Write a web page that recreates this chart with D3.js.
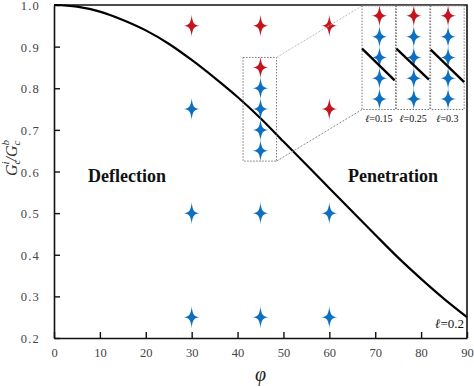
<!DOCTYPE html>
<html>
<head>
<meta charset="utf-8">
<script src="https://cdn.jsdelivr.net/npm/d3@7"></script>
<style>
  body { margin: 0; background: #fff; }
  svg { display: block; font-family: "Liberation Serif", "DejaVu Serif", serif; }
</style>
</head>
<body>
<svg width="474" height="387"></svg>
<script>
// courbe critique (l = 0.2)
var curvePhi = [0, 5, 10, 15, 20, 25, 30, 35, 40, 45, 50, 55, 60, 65, 70, 75, 80, 85, 90];
var curveG   = [1.0, 0.996, 0.984, 0.964, 0.939, 0.907, 0.868, 0.825, 0.779, 0.728, 0.672, 0.616, 0.56, 0.504, 0.448, 0.393, 0.342, 0.294, 0.25];

// simulations : phi, G, resultat (d = deflection, p = penetration)
var simPhi = [30, 30, 30, 30, 45, 45, 45, 45, 45, 45, 45, 45, 60, 60, 60, 60];
var simG   = [0.95, 0.75, 0.5, 0.25, 0.95, 0.85, 0.8, 0.75, 0.7, 0.65, 0.5, 0.25, 0.95, 0.75, 0.5, 0.25];
var simRes = ["p", "d", "d", "d", "p", "p", "d", "d", "d", "d", "d", "d", "p", "p", "d", "d"];

// zoom autour de phi = 45
var zoomPhi = [41.2, 48.5];
var zoomG = [0.625, 0.874];
var zoomStarG = [0.85, 0.8, 0.75, 0.7, 0.65];
var zoomStarRes = ["p", "d", "d", "d", "d"];

// encarts pour d'autres l
var insetLabels = ["0.15", "0.25", "0.3"];
var insetLinePhi = [[41.2, 48.3], [41.2, 48.3], [41.2, 48.5]];
var insetLineG = [[0.771, 0.695], [0.771, 0.697], [0.769, 0.691]];

var xTicks = [0, 10, 20, 30, 40, 50, 60, 70, 80, 90];
var yTicks = [0.2, 0.3, 0.4, 0.5, 0.6, 0.7, 0.8, 0.9, 1.0];

var svg = d3.select("svg"),
    margin = {top: 5, right: 7, bottom: 49, left: 54},
    width = +svg.attr("width") - margin.left - margin.right,
    height = +svg.attr("height") - margin.top - margin.bottom,
    g = svg.append("g").attr("transform", "translate(" + margin.left + "," + margin.top + ")");

var x = d3.scaleLinear().domain([0, 90]).range([0, width]);
var y = d3.scaleLinear().domain([0.2, 1.0]).range([height, 0]);

var colors = {p: "#c4141d", d: "#0d6fc2"};

// degrade pour les etoiles
var defs = svg.append("defs");
Object.keys(colors).forEach(function(k) {
  var grad = defs.append("radialGradient").attr("id", "grad-" + k);
  grad.append("stop").attr("offset", "0%").attr("stop-color", colors[k]);
  grad.append("stop").attr("offset", "60%").attr("stop-color", colors[k]);
  grad.append("stop").attr("offset", "100%").attr("stop-color", d3.interpolateRgb(colors[k], "#fff")(0.5));
});

// etoile a 4 branches (longue verticalement, branches fines)
var starType = {
  draw: function(ctx, size) {
    var h = 11.5, w = 8.5, a = 0.9, b = 2.2;
    ctx.moveTo(0, -h);
    ctx.bezierCurveTo(a, -b, b, -a, w, 0);
    ctx.bezierCurveTo(b, a, a, b, 0, h);
    ctx.bezierCurveTo(-a, b, -b, a, -w, 0);
    ctx.bezierCurveTo(-b, -a, -a, -b, 0, -h);
    ctx.closePath();
  }
};
var star = d3.symbol().type(starType);

// Axes
var xAxis = g.append("g")
  .attr("transform", "translate(0," + height + ")")
  .call(d3.axisBottom(x).tickValues(xTicks).tickSizeInner(-6).tickSizeOuter(0).tickPadding(10));
var yAxis = g.append("g")
  .call(d3.axisLeft(y).tickValues(yTicks).tickFormat(d3.format(".1f")).tickSizeInner(-6).tickSizeOuter(0).tickPadding(14));

[xAxis, yAxis].forEach(function(a) {
  a.selectAll(".domain").attr("stroke", "#111").attr("stroke-width", 1.6);
  a.selectAll(".tick line").attr("stroke", "#111").attr("stroke-width", 1.4);
  a.selectAll("text").attr("font-family", "Liberation Serif").attr("font-size", 12.5).attr("fill", "#444");
});
yAxis.selectAll("text").attr("letter-spacing", 1.2).attr("dy", "0.36em");

// cadre haut / droite
g.append("path")
  .attr("d", "M0,0H" + width + "V" + height)
  .attr("fill", "none").attr("stroke", "#111").attr("stroke-width", 1.6);

// courbe
var line = d3.line()
  .x(function(d, i) { return x(curvePhi[i]); })
  .y(function(d) { return y(d); })
  .curve(d3.curveMonotoneX);
g.append("path")
  .datum(curveG)
  .attr("d", line)
  .attr("fill", "none").attr("stroke", "#000").attr("stroke-width", 2.2);

// etoiles principales
g.selectAll(".sim")
  .data(simPhi)
  .enter().append("path")
  .attr("class", "sim")
  .attr("d", star)
  .attr("transform", function(d, i) { return "translate(" + x(d) + "," + y(simG[i]) + ")"; })
  .attr("fill", function(d, i) { return "url(#grad-" + simRes[i] + ")"; });

// boite de zoom
var bx0 = x(zoomPhi[0]), bx1 = x(zoomPhi[1]), by0 = y(zoomG[1]), by1 = y(zoomG[0]);
g.append("rect")
  .attr("x", bx0).attr("y", by0).attr("width", bx1 - bx0).attr("height", by1 - by0)
  .attr("fill", "none").attr("stroke", "#777").attr("stroke-width", 1).attr("stroke-dasharray", "1.5,1.5");

// encarts
var insetDy = -51.6, insetDx0 = 119, insetStep = 34.3;

g.append("line")
  .attr("x1", bx1).attr("y1", by0).attr("x2", bx0 + insetDx0).attr("y2", by0 + insetDy)
  .attr("stroke", "#bbb").attr("stroke-width", 1).attr("stroke-dasharray", "2,1.5");
g.append("line")
  .attr("x1", bx1).attr("y1", by1).attr("x2", bx0 + insetDx0).attr("y2", by1 + insetDy)
  .attr("stroke", "#888").attr("stroke-width", 1).attr("stroke-dasharray", "2,1.5");

var insets = g.selectAll(".inset")
  .data(insetLabels)
  .enter().append("g")
  .attr("class", "inset")
  .attr("transform", function(d, i) { return "translate(" + (insetDx0 + i * insetStep) + "," + insetDy + ")"; });

insets.append("rect")
  .attr("x", bx0).attr("y", by0).attr("width", bx1 - bx0).attr("height", by1 - by0)
  .attr("fill", "#fff").attr("stroke", "#777").attr("stroke-width", 1).attr("stroke-dasharray", "1.5,1.5");

insets.selectAll(".istar")
  .data(zoomStarG)
  .enter().append("path")
  .attr("class", "istar")
  .attr("d", star)
  .attr("transform", function(d) { return "translate(" + x(45) + "," + y(d) + ")"; })
  .attr("fill", function(d, i) { return "url(#grad-" + zoomStarRes[i] + ")"; });

insets.append("line")
  .attr("x1", function(d, i) { return x(insetLinePhi[i][0]); })
  .attr("y1", function(d, i) { return y(insetLineG[i][0]); })
  .attr("x2", function(d, i) { return x(insetLinePhi[i][1]); })
  .attr("y2", function(d, i) { return y(insetLineG[i][1]); })
  .attr("stroke", "#000").attr("stroke-width", 2.4);

var ilab = insets.append("text")
  .attr("x", (bx0 + bx1) / 2)
  .attr("y", by1 + 13)
  .attr("text-anchor", "middle")
  .attr("font-size", 10)
  .attr("fill", "#111");
ilab.append("tspan").attr("font-style", "italic").text("\u2113");
ilab.append("tspan").text(function(d) { return "=" + d; });

// l = 0.2
var lab = g.append("text")
  .attr("x", width - 3).attr("y", height - 10)
  .attr("text-anchor", "end").attr("font-size", 13).attr("fill", "#111");
lab.append("tspan").attr("font-style", "italic").text("\u2113");
lab.append("tspan").text("=0.2");

// regions
g.append("text").attr("x", 34).attr("y", 177).attr("font-size", 18).attr("font-weight", "bold").attr("fill", "#111").text("Deflection");
g.append("text").attr("x", 294).attr("y", 177).attr("font-size", 18).attr("font-weight", "bold").attr("fill", "#111").text("Penetration");

// titres des axes
svg.append("text")
  .attr("x", margin.left + width / 2).attr("y", 381)
  .attr("text-anchor", "middle").attr("font-size", 20).attr("font-style", "italic").attr("fill", "#222")
  .text("\u03c6");

var yl = svg.append("text")
  .attr("transform", "translate(17,158) rotate(-90)")
  .attr("text-anchor", "middle").attr("font-size", 16).attr("font-style", "italic").attr("fill", "#333");
yl.append("tspan").text("G");
yl.append("tspan").attr("font-size", 11).attr("dy", 3).text("c");
yl.append("tspan").attr("font-size", 11).attr("dy", -11).attr("dx", -5).text("i");
yl.append("tspan").attr("dy", 8).text("/G");
yl.append("tspan").attr("font-size", 11).attr("dy", 3).text("c");
yl.append("tspan").attr("font-size", 11).attr("dy", -11).attr("dx", -5).text("b");
</script>
</body>
</html>
